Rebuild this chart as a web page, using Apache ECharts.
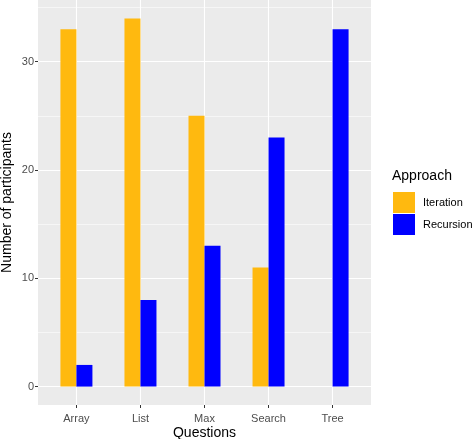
<!DOCTYPE html>
<html lang="en">
<head>
    <meta charset="UTF-8">
    <title>Questions</title>
    <style type="text/css">
        html, body { margin: 0; padding: 0; background: #fff; }
        #chart { width: 474px; height: 439px; }
    </style>
    <script src="https://cdn.jsdelivr.net/npm/echarts@6.0.0/dist/echarts.min.js"></script>
</head>
<body>
<div id="chart"></div>
<script type="application/javascript">
    var questions = ['Array', 'List', 'Max', 'Search', 'Tree'];
    var iteration = [33, 34, 25, 11, 0];
    var recursion = [2, 8, 13, 23, 33];
    var yTicks = [0, 10, 20, 30];
    var yMinor = [5, 15, 25, 35];
    var xPos = [1, 2, 3, 4, 5];

    function pairs(values) {
        var out = [];
        for (var i = 0; i < values.length; i++) {
            out.push([xPos[i], values[i]]);
        }
        return out;
    }

    var font = 'Liberation Sans, Arial, sans-serif';
    var chart = echarts.init(document.getElementById('chart'));

    var option = {
        animation: false,
        title: {
            text: 'Approach',
            left: 392,
            top: 169,
            padding: 0,
            textStyle: { fontFamily: font, fontSize: 14, fontWeight: 'normal', color: '#000' }
        },
        legend: {
            orient: 'vertical',
            left: 393,
            top: 192,
            padding: 0,
            itemWidth: 22,
            itemHeight: 21,
            itemGap: 1,
            icon: 'rect',
            textStyle: { fontFamily: font, fontSize: 11, color: '#000', padding: [0, 0, 0, 3] },
            data: ['Iteration', 'Recursion']
        },
        grid: {
            left: 38,
            right: 103,
            top: 0,
            bottom: 34,
            show: true,
            backgroundColor: '#EBEBEB',
            borderWidth: 0,
            containLabel: false,
            outerBoundsMode: 'none'
        },
        xAxis: {
            type: 'value',
            min: 0.4,
            max: 5.6,
            name: 'Questions',
            nameLocation: 'middle',
            nameGap: 21,
            nameMoveOverlap: false,
            nameTextStyle: { fontFamily: font, fontSize: 14, color: '#000' },
            axisLine: { show: false, onZero: false },
            axisTick: { show: true, length: 3, customValues: xPos, lineStyle: { color: '#333', width: 1 } },
            axisLabel: {
                customValues: xPos,
                margin: 8,
                fontFamily: font, fontSize: 11, color: '#4D4D4D',
                formatter: function (v) { return questions[Math.round(v) - 1]; }
            },
            splitLine: { show: true, lineStyle: { color: '#fff', width: 1.1 } }
        },
        yAxis: [{
            type: 'value',
            min: -1.7,
            max: 35.7,
            name: 'Number of participants',
            nameLocation: 'middle',
            nameGap: 24,
            nameMoveOverlap: false,
            nameTextStyle: { fontFamily: font, fontSize: 14, color: '#000' },
            axisLine: { show: false, onZero: false },
            axisTick: { show: true, length: 3, customValues: yTicks, lineStyle: { color: '#333', width: 1 } },
            axisLabel: { customValues: yTicks, margin: 4, fontFamily: font, fontSize: 11, color: '#4D4D4D' },
            splitLine: { show: true, lineStyle: { color: '#fff', width: 1.1 } }
        }, {
            type: 'value',
            min: -1.7,
            max: 35.7,
            position: 'left',
            axisLine: { show: false, onZero: false },
            axisTick: { show: false, customValues: yMinor },
            axisLabel: { show: false, customValues: yMinor },
            splitLine: { show: true, lineStyle: { color: '#fff', width: 0.55 } }
        }],
        series: [{
            name: 'Iteration',
            type: 'bar',
            barWidth: 16,
            barGap: 0,
            itemStyle: { color: '#FFB90F' },
            data: pairs(iteration)
        }, {
            name: 'Recursion',
            type: 'bar',
            barWidth: 16,
            barGap: 0,
            itemStyle: { color: '#0000FF' },
            data: pairs(recursion)
        }]
    };
    chart.setOption(option);
</script>
</body>
</html>
